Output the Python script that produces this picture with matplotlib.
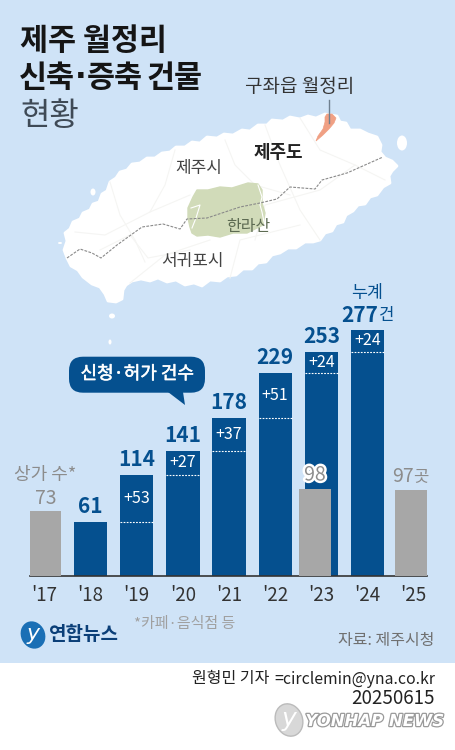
import matplotlib
matplotlib.use('Agg')
import matplotlib.pyplot as plt
from matplotlib.patches import Polygon, Rectangle, FancyBboxPatch, Ellipse
import matplotlib.patheffects as pe

# ---------- data ----------
years = ["'17", "'18", "'19", "'20", "'21", "'22", "'23", "'24", "'25"]
permit_years = ["'18", "'19", "'20", "'21", "'22", "'23", "'24"]
permit_totals = [61, 114, 141, 178, 229, 253, 277]
permit_increments = [None, 53, 27, 37, 51, 24, 24]
shop_years = ["'17", "'23", "'25"]
shop_counts = [73, 98, 97]

BG = '#cfe3f7'
BLUE = '#05508f'
GRAY = '#a7a7a7'
GRAYTXT = '#8c8c8c'
KR = ['Noto Sans CJK KR', 'DejaVu Sans']
plt.rcParams['font.family'] = KR

W, H = 456, 750
fig = plt.figure(figsize=(W / 100, H / 100), dpi=100, facecolor='white')

# ---------- pixel-space canvas ----------
cv = fig.add_axes([0, 0, 1, 1])
cv.set_xlim(0, W)
cv.set_ylim(H, 0)
cv.axis('off')
cv.add_patch(Rectangle((0, 0), W, 663, fc=BG, ec='none', zorder=0))


def T(x, y, s, px, color='#222222', weight='normal', ha='center', **kw):
    return cv.text(x, y, s, fontsize=px * 0.72, color=color, fontweight=weight,
                   ha=ha, va='center', zorder=10, **kw)


# island outline
coast = [(67, 258), (64, 250), (67, 241), (65, 233), (70, 229), (73, 222), (80, 219), (83, 213), (90, 210),
         (93, 204), (99, 202), (102, 194), (107, 191), (110, 182), (116, 178), (120, 172), (127, 170),
         (132, 164), (140, 163), (147, 158), (155, 158), (162, 153), (170, 152), (176, 147), (185, 147),
         (192, 142), (200, 143), (207, 137), (217, 138), (224, 134), (233, 135), (242, 130), (250, 131),
         (258, 125), (267, 125), (272, 120), (283, 121), (290, 117), (300, 119), (308, 116), (316, 118),
         (325, 114), (337, 116), (340, 122), (346, 123), (350, 130), (360, 130), (368, 134), (377, 137),
         (381, 145), (380, 152), (385, 158), (392, 161), (397, 166), (392, 171), (389, 176), (390, 183),
         (383, 187), (377, 195), (370, 197), (365, 204), (358, 205), (353, 211), (346, 215), (343, 222),
         (336, 224), (332, 231), (325, 233), (320, 240), (313, 242), (305, 242), (296, 248), (288, 248),
         (280, 253), (272, 255), (266, 262), (258, 263), (252, 269), (243, 269), (236, 275), (227, 276),
         (220, 281), (210, 280), (202, 286), (194, 283), (185, 285), (176, 280), (167, 282), (158, 278),
         (150, 281), (141, 279), (132, 281), (126, 285), (123, 290), (122, 299), (116, 302), (108, 301),
         (105, 294), (100, 287), (92, 284), (83, 277), (78, 270), (71, 266)]
cv.add_patch(Polygon(coast, closed=True, fc='white', ec='white', lw=2, joinstyle='round', zorder=1))
for cx, cy, w, h in [(402, 143, 10, 15), (112, 316, 6, 5), (110, 342, 3, 5), (93, 192, 5, 7), (60, 243, 4, 2)]:
    cv.add_patch(Ellipse((cx, cy), w, h, fc='white', ec='none', zorder=1))

# faint roads
roads = [[(110, 182), (120, 215), (135, 240), (145, 262)], [(75, 232), (105, 235), (150, 212), (190, 195)],
         [(100, 250), (130, 235), (148, 258), (190, 250)], [(225, 140), (235, 165), (255, 185), (290, 195)],
         [(265, 125), (280, 165), (300, 210), (320, 240)], [(175, 150), (165, 185), (150, 212)],
         [(300, 118), (320, 150), (355, 165), (385, 180)], [(255, 240), (265, 205), (320, 190), (355, 165)],
         [(230, 278), (240, 240), (300, 225)], [(130, 283), (165, 255), (210, 240)]]
for r in roads:
    cv.plot(*zip(*r), color='#f5f5f3', lw=0.8, zorder=2)

halla = [(197, 190), (208, 190), (220, 187), (232, 188), (248, 183), (258, 184), (262, 190), (262, 203),
         (265, 213), (263, 225), (255, 229), (247, 233), (233, 233), (220, 237), (208, 235), (197, 236),
         (192, 233), (190, 227), (188, 218), (188, 208), (193, 197)]
cv.add_patch(Polygon(halla, closed=True, fc='#d1dbb9', ec='#d1dbb9', lw=1, joinstyle='round', zorder=3))
cv.plot([258, 262, 260, 262, 264], [185, 197, 205, 212, 222], color='white', lw=0.8, zorder=4)
cv.plot([191, 200, 196, 192], [208, 205, 218, 228], color='white', lw=0.8, zorder=4)

divide = [(67, 258), (80, 249), (92, 253), (101, 258), (117, 245), (142, 227), (163, 224), (180, 229),
          (187, 219), (207, 218), (240, 207), (260, 203), (277, 199), (290, 187), (315, 189), (322, 180),
          (347, 173), (383, 157)]
cv.plot(*zip(*divide), color='#8a8a8a', lw=0.8, ls=(0, (2.5, 1.2)), zorder=5)

wolieong = [(325, 117), (327, 114), (332, 114), (336, 118), (334, 123), (329, 129), (323, 135), (316, 141),
            (318, 136), (323, 129), (325, 122)]
cv.add_patch(Polygon(wolieong, closed=True, fc='#f0a084', ec='#f0a084', lw=0.5, zorder=6))
cv.plot([329.3, 329.3], [100, 123], color='#6f8090', lw=1, zorder=7)

# title + place labels
T(20, 41, '제주 월정리', 30.5, color='#151515', weight='bold', ha='left')
T(19, 78, '신축', 30.5, color='#151515', weight='bold', ha='left')
T(81, 78, '·', 30.5, color='#151515', weight='bold', family='DejaVu Sans')
T(87, 78, '증축', 30.5, color='#151515', weight='bold', ha='left')
T(147, 78, '건물', 30.5, color='#151515', weight='bold', ha='left')
T(20, 116, '현황', 32, color='#3f4a56', ha='left')
T(300, 86, '구좌읍 월정리', 19, color='#333333')
T(278, 153, '제주도', 18, color='#222222', weight='bold')
T(199, 168, '제주시', 17, color='#444444')
T(248, 226, '한라산', 16, color='#5d6b52')
T(192, 261, '서귀포시', 17, color='#444444')

# ---------- bar chart with its own scales ----------
PX_PER_UNIT = 0.886
BASE_PX, LEFT_PX, RIGHT_PX = 575.7, 29.7, 427.0
YMAX = 290
ax = fig.add_axes([LEFT_PX / W, 1 - BASE_PX / H, (RIGHT_PX - LEFT_PX) / W, YMAX * PX_PER_UNIT / H])
ax.patch.set_alpha(0)
ax.set_ylim(0, YMAX)
ax.set_xlim((LEFT_PX - 44.33) / 46.17, (RIGHT_PX - 44.33) / 46.17)
for s in ['top', 'left', 'right']:
    ax.spines[s].set_visible(False)
ax.spines['bottom'].set_color('#333333')
ax.spines['bottom'].set_linewidth(1.2)
ax.yaxis.set_visible(False)
ax.set_xticks(range(len(years)), years)
ax.tick_params(axis='x', length=0, pad=6.5, labelsize=13.5, labelcolor='#333333')

pos = {y: i for i, y in enumerate(years)}
px = [pos[y] for y in permit_years]
ax.bar(px, permit_totals, width=0.722, color=BLUE, zorder=2)

gray_shift = {"'17": 0.025, "'23": -0.139, "'25": -0.054}
gx = [pos[y] + gray_shift[y] for y in shop_years]
ax.bar(gx, shop_counts, width=0.687, color=GRAY, zorder=3)

for i, (x, tot, inc) in enumerate(zip(px, permit_totals, permit_increments)):
    last = i == len(px) - 1
    if not last:
        ax.annotate(str(tot), (x, tot), xytext=(0, 11), textcoords='offset points', ha='center',
                    va='center', fontsize=15, fontweight='bold', color=BLUE, zorder=6)
    if inc is not None:
        ax.plot([x - 0.361, x + 0.361], [tot - inc] * 2, color='white', lw=0.8, ls=(0, (1.6, 1.2)), zorder=4)
        ax.text(x, tot - inc / 2, f'+{inc}', ha='center', va='center', fontsize=11.5, color='white', zorder=6)

# last permit label: bold number + regular unit
lx, lv = px[-1], permit_totals[-1]
ax.annotate(str(lv), (lx, lv), xytext=(-5.5, 11), textcoords='offset points', ha='center', va='center',
            fontsize=15, fontweight='bold', color=BLUE, zorder=6)
ax.annotate('건', (lx, lv), xytext=(8, 11), textcoords='offset points', ha='left', va='center',
            fontsize=12, color=BLUE, zorder=6, annotation_clip=False)
ax.annotate('누계', (lx, lv), xytext=(0, 27), textcoords='offset points', ha='center', va='center',
            fontsize=12.5, color=BLUE, zorder=6)

# shop labels
ax.annotate(str(shop_counts[0]), (gx[0], shop_counts[0]), xytext=(0, 8.7), textcoords='offset points',
            ha='center', va='center', fontsize=14, color=GRAYTXT, zorder=6)
ax.annotate('상가 수*', (gx[0], shop_counts[0]), xytext=(0, 26), textcoords='offset points',
            ha='center', va='center', fontsize=13, color=GRAYTXT, zorder=6)
ax.annotate(str(shop_counts[1]), (gx[1], shop_counts[1]), xytext=(0, 10), textcoords='offset points',
            ha='center', va='center', fontsize=14, color=GRAYTXT, zorder=6,
            path_effects=[pe.withStroke(linewidth=3.5, foreground='white')])
ax.annotate(str(shop_counts[2]), (gx[2], shop_counts[2]), xytext=(-6, 9.5), textcoords='offset points',
            ha='center', va='center', fontsize=14, color=GRAYTXT, zorder=6)
ax.annotate('곳', (gx[2], shop_counts[2]), xytext=(1.5, 9.5), textcoords='offset points',
            ha='left', va='center', fontsize=12, color=GRAYTXT, zorder=6)

# callout
cv.add_patch(FancyBboxPatch((69, 356.7), 136, 36, boxstyle='round,pad=0,rounding_size=14',
                            fc=BLUE, ec='none', zorder=7))
cv.add_patch(Polygon([(168, 392), (183, 392), (185, 405)], closed=True, fc=BLUE, ec='none', zorder=7))
T(137, 374, '신청·허가 건수', 18, color='white',
  path_effects=[pe.withStroke(linewidth=0.4, foreground='white')])

# footer
cv.add_patch(Ellipse((33, 635), 24, 28, angle=-25, fc='#1a6fb5', ec='none', zorder=9))
T(33, 634, 'y', 22, color='white', style='italic', family='DejaVu Sans')
T(48, 635, '연합뉴스', 19, color='#0b3f78', weight='bold', ha='left')
T(185, 624, '*카페·음식점 등', 15, color='#a0a0a0')
T(435, 640, '자료: 제주시청', 16, color='#707070', ha='right')
T(192, 679, '원형민 기자', 16, color='#222222', ha='left')
T(435, 679, '=circlemin@yna.co.kr', 15.8, color='#222222', ha='right')
T(435, 699, '20250615', 18.8, color='#222222', ha='right')
cv.add_patch(Ellipse((289, 720), 27, 33, angle=-20, fc='#d8d8d8', ec='#bbbbbb', lw=1, zorder=9))
T(289, 719, 'y', 25, color='white', style='italic', family='DejaVu Sans')
T(444, 721, 'YONHAP NEWS', 16.5, color='white', weight='bold', ha='right', style='italic',
  family='DejaVu Sans', path_effects=[pe.withStroke(linewidth=1.8, foreground='#9a9a9a')])

fig.savefig('out.png', dpi=100, facecolor='white')
